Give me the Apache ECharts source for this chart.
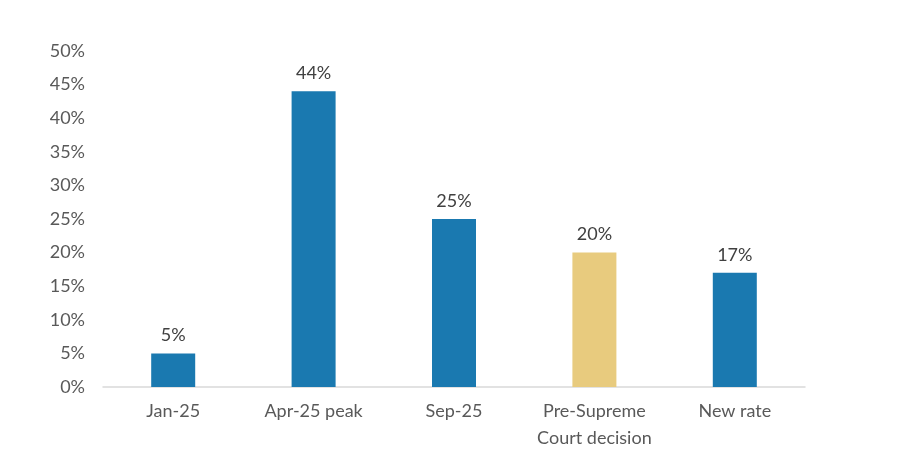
<!DOCTYPE html>
<html>
<head>
    <meta charset="UTF-8">
    <script src="https://cdn.jsdelivr.net/npm/echarts@6/dist/echarts.min.js"></script>
    <style>
        html, body { margin: 0; padding: 0; background: #fff; }
        #main { width: 910px; height: 473px; }
    </style>
</head>
<body>
<div id="main"></div>
<script type="text/javascript">
    var categories = ['Jan-25', 'Apr-25 peak', 'Sep-25', 'Pre-Supreme\nCourt decision', 'New rate'];
    var rates = [5, 44, 25, 20, 17];
    var barColors = ['#1a79b0', '#1a79b0', '#1a79b0', '#e8cb7e', '#1a79b0'];
    var yTicks = [0, 5, 10, 15, 20, 25, 30, 35, 40, 45, 50];

    var chart = echarts.init(document.getElementById('main'));
    var option = {
        animation: false,
        grid: {
            left: 103,
            right: 105,
            top: 51,
            bottom: 86
        },
        xAxis: {
            type: 'category',
            data: categories,
            axisLine: { lineStyle: { color: '#d9d9d9', width: 1.5 } },
            axisTick: { show: false },
            axisLabel: {
                interval: 0,
                hideOverlap: false,
                color: '#595959',
                fontFamily: 'Lato',
                fontSize: 18,
                lineHeight: 27,
                margin: 11
            }
        },
        yAxis: {
            type: 'value',
            min: yTicks[0],
            max: yTicks[yTicks.length - 1],
            interval: 5,
            splitLine: { show: false },
            axisLine: { show: false },
            axisTick: { show: false },
            axisLabel: {
                color: '#595959',
                fontFamily: 'Lato',
                fontSize: 18,
                margin: 18,
                formatter: '{value}%'
            }
        },
        series: [
            {
                type: 'bar',
                barWidth: 44,
                data: rates.map(function (v, i) {
                    return { value: v, itemStyle: { color: barColors[i] } };
                }),
                label: {
                    show: true,
                    position: 'top',
                    distance: 9,
                    color: '#404040',
                    fontFamily: 'Lato',
                    fontSize: 18,
                    formatter: '{c}%'
                }
            }
        ]
    };
    chart.setOption(option);
</script>
</body>
</html>
